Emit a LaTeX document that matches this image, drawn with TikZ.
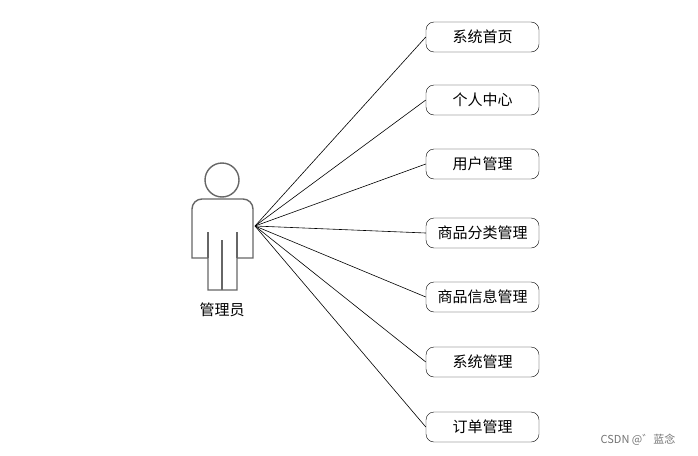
\documentclass[tikz,border=0pt]{standalone}
\usepackage{fontspec}
\newfontfamily\cjk{Noto Sans CJK SC}
\begin{document}
\begin{tikzpicture}[x=1pt,y=-1pt,
  uc/.style={draw,rounded corners=8pt,minimum width=113pt,minimum height=30pt,font=\cjk\fontsize{15}{17}\selectfont},
  link/.style={draw,line width=0.6pt},
  actor/.style={draw=black!60,line width=1.4pt}]
\useasboundingbox (0,0) rectangle (698,455);
\coordinate (hub) at (255,226);
\foreach \n/\y/\t in {a/37/系统首页,b/100/个人中心,c/164/用户管理,d/233/商品分类管理,e/297/商品信息管理,f/362/系统管理,g/427/订单管理}{
  \node[uc] (\n) at (482.5,\y) {\t};
  \draw[link] (hub) -- (\n.west);
}
\draw[actor] (222,180) circle (17);
\draw[actor] (192,258) -- (192,209) arc (180:270:10) -- (243,199) arc (270:360:10) -- (253,258) -- (237,258) -- (237,290) -- (208,290) -- (208,258) -- cycle;
\draw[actor] (208,232) -- (208,258) (237,232) -- (237,258) (222,240) -- (222,290);
\node[font=\cjk\fontsize{15}{17}\selectfont] (lbl) at (222,310) {管理员};
\node[font=\cjk\fontsize{11}{13}\selectfont,text=black!55] (wm) at (638,440) {CSDN @゛蓝念};
\end{tikzpicture}
\end{document}
